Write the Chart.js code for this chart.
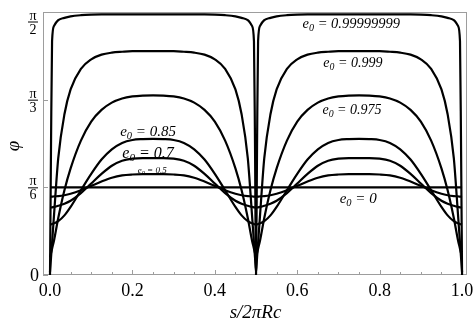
<!DOCTYPE html>
<html>
<head>
<meta charset="utf-8">
<script src="https://cdn.jsdelivr.net/npm/chart.js@4/dist/chart.umd.min.js"></script>
<style>
  html, body { margin: 0; padding: 0; background: #fff; }
  canvas { display: block; }
</style>
</head>
<body>
<canvas id="phiChart" width="474" height="326"></canvas>
<script>
// arc length s/2πRc at which the curves are sampled (denser near the cusps)
const sGrid = [
  0, 0.0025, 0.005, 0.01, 0.02, 0.035, 0.05, 0.075, 0.1, 0.125, 0.15, 0.175, 0.2, 0.225, 0.25,
  0.275, 0.3, 0.325, 0.35, 0.375, 0.4, 0.425, 0.45, 0.465, 0.48, 0.49, 0.495, 0.4975, 0.5,
  0.5025, 0.505, 0.51, 0.52, 0.535, 0.55, 0.575, 0.6, 0.625, 0.65, 0.675, 0.7, 0.725, 0.75,
  0.775, 0.8, 0.825, 0.85, 0.875, 0.9, 0.925, 0.95, 0.965, 0.98, 0.99, 0.995, 0.9975, 1
];

// phi in degrees, one array per initial eccentricity e0
const phiE99999999 = [
  0, 45, 80, 85.3, 87.2, 88.0, 88.5, 88.9, 89.1, 89.2, 89.2, 89.2, 89.2, 89.2, 89.2,
  89.2, 89.2, 89.2, 89.2, 89.2, 89.1, 88.9, 88.5, 88.0, 87.2, 85.3, 80, 45, 0,
  45, 80, 85.3, 87.2, 88.0, 88.5, 88.9, 89.1, 89.2, 89.2, 89.2, 89.2, 89.2, 89.2,
  89.2, 89.2, 89.2, 89.2, 89.2, 89.1, 88.9, 88.5, 88.0, 87.2, 85.3, 80, 45, 0
];
const phiE999 = [
  1, 6, 11, 21, 40, 55, 63.5, 70.5, 73.8, 75.4, 76.1, 76.4, 76.6, 76.6, 76.6,
  76.6, 76.6, 76.4, 76.1, 75.4, 73.8, 70.5, 63.5, 55, 40, 21, 11, 6, 1,
  6, 11, 21, 40, 55, 63.5, 70.5, 73.8, 75.4, 76.1, 76.4, 76.6, 76.6, 76.6,
  76.6, 76.6, 76.4, 76.1, 75.4, 73.8, 70.5, 63.5, 55, 40, 21, 11, 6, 1
];
const phiE975 = [
  6, 7.5, 9, 12, 19.5, 29, 36.5, 46, 52.5, 56.5, 59, 60.4, 61.1, 61.4, 61.5,
  61.4, 61.1, 60.4, 59, 56.5, 52.5, 46, 36.5, 29, 19.5, 12, 9, 7.5, 6,
  7.5, 9, 12, 19.5, 29, 36.5, 46, 52.5, 56.5, 59, 60.4, 61.1, 61.4, 61.5,
  61.4, 61.1, 60.4, 59, 56.5, 52.5, 46, 36.5, 29, 19.5, 12, 9, 7.5, 6
];
const phiE85 = [
  17.3, 17.35, 17.45, 17.7, 18.4, 20.4, 23.3, 29, 34.6, 39.5, 43, 45.2, 46.2, 46.5, 46.6,
  46.5, 46.2, 45.2, 43, 39.5, 34.6, 29, 23.3, 20.4, 18.4, 17.7, 17.45, 17.35, 17.3,
  17.35, 17.45, 17.7, 18.4, 20.4, 23.3, 29, 34.6, 39.5, 43, 45.2, 46.2, 46.5, 46.6,
  46.5, 46.2, 45.2, 43, 39.5, 34.6, 29, 23.3, 20.4, 18.4, 17.7, 17.45, 17.35, 17.3
];
const phiE7 = [
  23.1, 23.1, 23.15, 23.3, 23.7, 24.4, 25.4, 28, 31.3, 34.6, 37.4, 39.1, 39.8, 40.0, 40.0,
  40.0, 39.8, 39.1, 37.4, 34.6, 31.3, 28, 25.4, 24.4, 23.7, 23.3, 23.15, 23.1, 23.1,
  23.1, 23.15, 23.3, 23.7, 24.4, 25.4, 28, 31.3, 34.6, 37.4, 39.1, 39.8, 40.0, 40.0,
  40.0, 39.8, 39.1, 37.4, 34.6, 31.3, 28, 25.4, 24.4, 23.7, 23.3, 23.15, 23.1, 23.1
];
const phiE5 = [
  26.8, 26.8, 26.8, 26.9, 27.0, 27.3, 27.8, 29.0, 30.5, 32.0, 33.3, 34.1, 34.4, 34.5, 34.5,
  34.5, 34.4, 34.1, 33.3, 32.0, 30.5, 29.0, 27.8, 27.3, 27.0, 26.9, 26.8, 26.8, 26.8,
  26.8, 26.8, 26.9, 27.0, 27.3, 27.8, 29.0, 30.5, 32.0, 33.3, 34.1, 34.4, 34.5, 34.5,
  34.5, 34.4, 34.1, 33.3, 32.0, 30.5, 29.0, 27.8, 27.3, 27.0, 26.9, 26.8, 26.8, 26.8
];
// circular case: phi stays at pi/6
const sE0 = [0, 1];
const phiE0 = [30, 30];

const eccValues = ['0.99999999', '0.999', '0.975', '0.85', '0.7', '0.5', '0'];

const xTicks = [0, 0.2, 0.4, 0.6, 0.8, 1.0];
const xTickLabels = ['0.0', '0.2', '0.4', '0.6', '0.8', '1.0'];
const yTicks = [0, 30, 60, 90];
const yTickLabels = [['0'], ['π', '6'], ['π', '3'], ['π', '2']];

const serif = "'Liberation Serif', 'Times New Roman', serif";

// where each e0 note sits, in (s, phi) coordinates
const notes = [
  { s: 0.731, phi: 86.1, size: 14.5 },
  { s: 0.735, phi: 72.5, size: 14 },
  { s: 0.733, phi: 56.4, size: 14 },
  { s: 0.238, phi: 49.2, size: 15 },
  { s: 0.238, phi: 41.7, size: 16 },
  { s: 0.248, phi: 35.9, size: 9 },
  { s: 0.748, phi: 26.3, size: 15 }
];

function toPoints(xs, ys) {
  return xs.map((s, i) => ({ x: s, y: ys[i] }));
}

function curve(xs, ys) {
  return {
    data: toPoints(xs, ys),
    borderColor: '#000',
    borderWidth: 2.2,
    pointRadius: 0,
    cubicInterpolationMode: 'monotone',
    fill: false
  };
}

function drawNote(ctx, cx, cy, value, size) {
  const main = `italic ${size}px ${serif}`;
  const sub = `italic ${size * 0.7}px ${serif}`;
  const rest = ' = ' + value;
  ctx.font = main;
  const wE = ctx.measureText('e').width;
  const wR = ctx.measureText(rest).width;
  ctx.font = sub;
  const wS = ctx.measureText('0').width;
  const left = cx - (wE + wS + wR) / 2;
  const base = cy + size * 0.3;
  ctx.textAlign = 'left';
  ctx.textBaseline = 'alphabetic';
  ctx.font = main;
  ctx.fillText('e', left, base);
  ctx.font = sub;
  ctx.fillText('0', left + wE, base + size * 0.22);
  ctx.font = main;
  ctx.fillText(rest, left + wE + wS, base);
}

const framePlugin = {
  id: 'frame',
  beforeDatasetsDraw(chart) {
    const { ctx, chartArea: a, scales: { x, y } } = chart;
    ctx.save();
    ctx.strokeStyle = '#9d9d9d';
    ctx.lineWidth = 1;
    ctx.strokeRect(a.left + 0.5, a.top + 0.5, a.right - a.left - 1, a.bottom - a.top - 1);
    ctx.beginPath();
    // inward ticks along the bottom, every 0.05
    for (let k = 0; k <= 20; k++) {
      const px = Math.round(x.getPixelForValue(k * 0.05)) + 0.5;
      const len = k % 4 === 0 ? 5 : 3;
      ctx.moveTo(px, a.bottom);
      ctx.lineTo(px, a.bottom - len);
    }
    yTicks.forEach(v => {
      const py = Math.round(y.getPixelForValue(v)) + 0.5;
      ctx.moveTo(a.left, py);
      ctx.lineTo(a.left + 5, py);
    });
    ctx.stroke();
    ctx.restore();
  },
  afterDraw(chart) {
    const { ctx, chartArea: a, scales: { x, y } } = chart;
    ctx.save();
    ctx.fillStyle = '#000';

    // x tick labels
    ctx.font = `18px ${serif}`;
    ctx.textAlign = 'center';
    ctx.textBaseline = 'alphabetic';
    xTicks.forEach((v, i) => {
      ctx.fillText(xTickLabels[i], x.getPixelForValue(v), a.bottom + 20.5);
    });

    // y tick labels, written as fractions of pi
    yTicks.forEach((v, i) => {
      const lab = yTickLabels[i];
      const py = y.getPixelForValue(v);
      const cx = a.left - 10;
      if (lab.length === 1) {
        ctx.font = `18px ${serif}`;
        ctx.fillText(lab[0], cx + 1.5, py + 6);
        return;
      }
      const cy = Math.max(py, 21.5);
      ctx.font = `14px ${serif}`;
      ctx.fillText(lab[0], cx, cy - 2);
      ctx.fillText(lab[1], cx, cy + 12);
      ctx.fillRect(cx - 5, cy, 10, 1);
    });

    // axis titles
    ctx.font = `italic 19px ${serif}`;
    ctx.fillText('s/2πRc', (a.left + a.right) / 2 + 0.5, a.bottom + 43);
    ctx.save();
    ctx.translate(14, 146);
    ctx.rotate(-Math.PI / 2);
    ctx.textBaseline = 'middle';
    ctx.fillText('φ', 0, 0);
    ctx.restore();

    // e0 notes next to the curves
    notes.forEach((n, i) => {
      drawNote(ctx, x.getPixelForValue(n.s), y.getPixelForValue(n.phi), eccValues[i], n.size);
    });
    ctx.restore();
  }
};

new Chart(document.getElementById('phiChart'), {
  type: 'line',
  data: {
    datasets: [
      curve(sGrid, phiE99999999),
      curve(sGrid, phiE999),
      curve(sGrid, phiE975),
      curve(sGrid, phiE85),
      curve(sGrid, phiE7),
      curve(sGrid, phiE5),
      curve(sE0, phiE0)
    ]
  },
  options: {
    responsive: false,
    animation: false,
    devicePixelRatio: 1,
    layout: { padding: { left: 43, right: 7, top: 12, bottom: 51 } },
    scales: {
      x: { type: 'linear', min: -0.017, max: 1.012, display: false },
      y: { type: 'linear', min: 0, max: 90, display: false }
    },
    plugins: {
      legend: { display: false },
      tooltip: { enabled: false }
    }
  },
  plugins: [framePlugin]
});
</script>
</body>
</html>
